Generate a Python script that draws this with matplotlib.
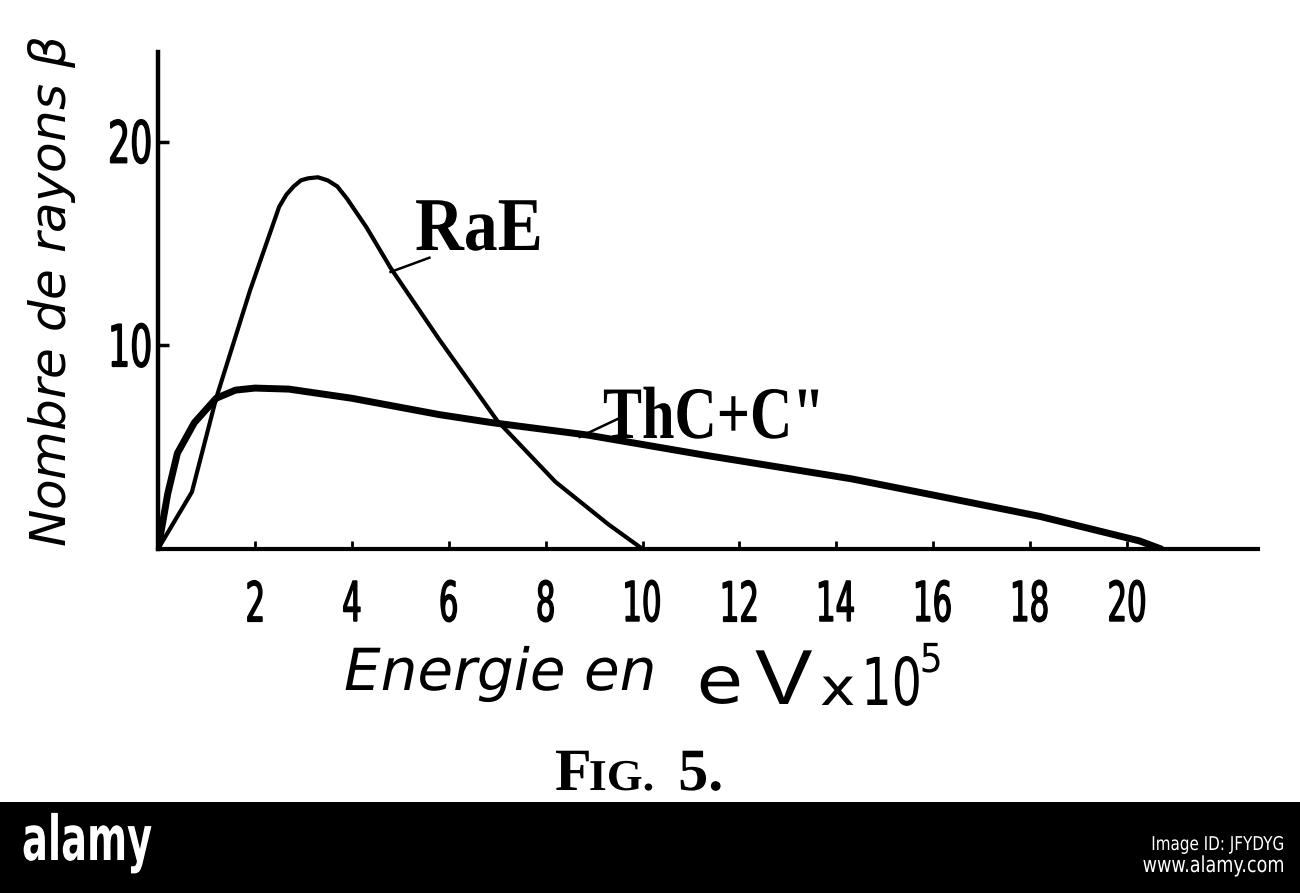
import matplotlib
matplotlib.use("Agg")
import matplotlib.pyplot as plt
from matplotlib.transforms import Affine2D, IdentityTransform
from matplotlib.textpath import TextPath
from matplotlib.patches import PathPatch, Rectangle
from matplotlib.font_manager import FontProperties

# values (energy in eV x 10^5, number of beta rays)
rae_energy = [0, 0.7, 1.2, 1.9, 2.5, 2.65, 2.8, 2.95, 3.1, 3.3, 3.5, 3.7, 3.9, 4.3, 4.8, 5.8, 7.0, 8.2, 9.3, 10.0]
rae_count = [0, 2.8, 7.4, 12.7, 16.8, 17.4, 17.8, 18.1, 18.2, 18.25, 18.1, 17.8, 17.2, 15.8, 13.8, 10.3, 6.3, 3.3, 1.2, 0]

thc_energy = [0, 0.2, 0.4, 0.75, 1.2, 1.6, 2.0, 2.7, 4.0, 5.8, 6.9, 8.85, 11.3, 14.3, 16.1, 18.2, 20.25, 20.7]
thc_count = [0, 2.7, 4.7, 6.2, 7.4, 7.8, 7.9, 7.85, 7.4, 6.6, 6.2, 5.6, 4.6, 3.45, 2.6, 1.6, 0.4, 0]

x_ticks = [2, 4, 6, 8, 10, 12, 14, 16, 18, 20]
y_ticks = [10, 20]

W, H = 1300, 893

fig = plt.figure(figsize=(W / 100, H / 100), dpi=100)
fig.patch.set_facecolor('white')

sans = FontProperties(family='DejaVu Sans')
sans_it = FontProperties(family='DejaVu Sans', style='italic')
lib_sans = FontProperties(family='Liberation Sans')
serif_bd = FontProperties(family='Liberation Serif', weight='bold')
sans_bd = FontProperties(family='DejaVu Sans', weight='bold')


def path_text(x, y, s, size, prop, sx=1.0, ha='left', va='baseline', color='black', edge=0):
    """Draw s as a path at pixel (x, y) measured from the top-left, squeezed by sx."""
    tp = TextPath((0, 0), s, size=size, prop=prop)
    ext = tp.get_extents()
    ox = {'left': 0, 'center': (ext.x0 + ext.x1) / 2, 'right': ext.x1}[ha]
    oy = {'baseline': 0, 'center': (ext.y0 + ext.y1) / 2, 'top': ext.y1}[va]
    tr = Affine2D().translate(-ox, -oy).scale(sx, 1).translate(x, H - y)
    fig.add_artist(PathPatch(tp, transform=tr + IdentityTransform(), facecolor=color,
                             edgecolor=color if edge else 'none', lw=edge))
    return ext.x1 * sx


ax = fig.add_axes([158 / W, (H - 549) / H, 1100 / W, (549 - 52) / H])
ax.set_xlim(0, 22.7)
ax.set_ylim(0, 24.4)
for s in ['top', 'right']:
    ax.spines[s].set_visible(False)
ax.spines['left'].set_linewidth(3.2)
ax.spines['bottom'].set_linewidth(3)

ax.plot(thc_energy, thc_count, color='black', lw=5, solid_capstyle='round',
        solid_joinstyle='round')
ax.plot(rae_energy, rae_count, color='black', lw=3, solid_capstyle='round',
        solid_joinstyle='round')

ax.set_xticks(x_ticks)
ax.set_yticks(y_ticks)
ax.set_xticklabels([])
ax.set_yticklabels([])
ax.tick_params(axis='x', direction='in', length=6, width=2)
ax.tick_params(axis='y', direction='in', length=8, width=2.5)

# condensed tick labels, placed at the tick positions
for v in x_ticks:
    X, Y = ax.transData.transform((v, 0))
    path_text(X, H - Y + 52, str(v), 55, sans, sx=0.56, ha='center', va='center', edge=1.0)
for v in y_ticks:
    X, Y = ax.transData.transform((0, v))
    path_text(X - 8, H - Y, str(v), 58, sans, sx=0.6, ha='right', va='center', edge=1.0)

# curve labels with short leader lines
path_text(415, 250, 'RaE', 76, serif_bd, sx=0.89)
ax.plot([4.8, 5.6], [13.6, 14.3], color='black', lw=1.8)
path_text(603, 438, 'ThC+C"', 74, serif_bd, sx=0.79)
ax.plot([8.7, 9.5], [5.5, 6.4], color='black', lw=1.8)

# y label
fig.text(52 / W, 1 - 291 / H, r'Nombre de rayons $\beta$', rotation=90, style='italic',
         fontsize=36, ha='center', va='center', family='DejaVu Sans')

# x label: mixed fonts and sizes
x = 344
x += path_text(x, 690, 'Energie en', 58, sans_it)
x += 44
x += path_text(x, 703, 'e', 66, sans, sx=1.15)
x += 16
x += path_text(x, 704, 'V', 78, lib_sans, sx=1.1)
x += 8
x += path_text(x, 705, 'x', 52, sans, sx=1.15)
x += 8
x += path_text(x, 705, '10', 66, sans, sx=0.72)
path_text(x + 1, 672, '5', 40, sans, sx=0.9)

# caption
x = 555
x += path_text(x, 790, 'F', 60, serif_bd)
x += path_text(x, 790, 'IG.', 44, serif_bd, sx=1.05)
x += 26
path_text(x, 790, '5.', 60, serif_bd)

# black footer band
fig.add_artist(Rectangle((0, 0), 1, 91 / H, transform=fig.transFigure,
                         facecolor='black', edgecolor='none'))
path_text(22, 860, 'alamy', 62, sans_bd, sx=0.62, color='white')
path_text(1283, 850, 'Image ID: JFYDYG', 19, sans, sx=0.8, ha='right', color='white')
path_text(1283, 872, 'www.alamy.com', 22, sans, sx=0.8, ha='right', color='white')

fig.savefig('out.png', dpi=100)
